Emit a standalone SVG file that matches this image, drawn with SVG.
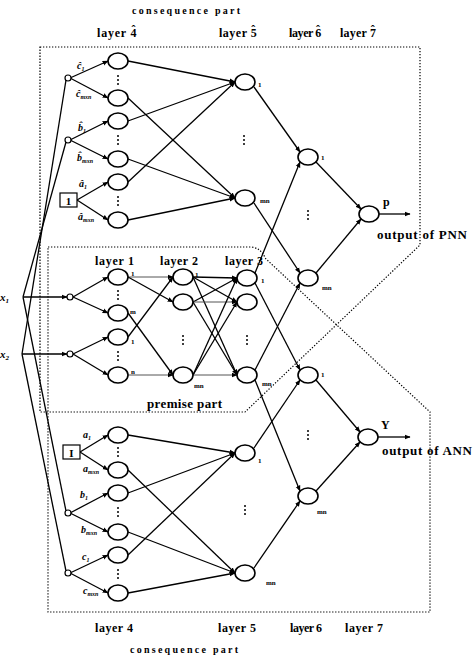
<svg xmlns="http://www.w3.org/2000/svg" width="474" height="657" viewBox="0 0 474 657">
<defs>
<marker id="ah" viewBox="0 0 10 10" refX="9" refY="5" markerWidth="6" markerHeight="6" orient="auto" markerUnits="userSpaceOnUse">
<path d="M0,1 L10,5 L0,9 z" fill="#000"/>
</marker>
<g id="dots"><circle cx="0" cy="-4" r="1"/><circle cx="0" cy="0" r="1"/><circle cx="0" cy="4" r="1"/></g>
</defs>
<style>
.t{font-family:"Liberation Serif","Times New Roman",serif;font-weight:bold;fill:#000}
.h{font-size:12px}
.s{font-size:7px}
.w{font-size:10px;font-style:italic}
.sub{font-size:6px;font-style:italic}
.n{fill:#fff;stroke:#000;stroke-width:1.6}
.sp{fill:#fff;stroke:#000;stroke-width:1.2}
.c line{stroke:#000;stroke-width:1.3;marker-end:url(#ah)}
.c line.na{marker-end:none}
.c line.g{stroke:#555;stroke-width:1}
.b{fill:none;stroke:#000;stroke-width:1.2;stroke-dasharray:1.3 1.7}
</style>
<rect width="474" height="657" fill="#fff"/>

<!-- dotted regions -->
<g id="regions">
<path class="b" d="M40,47 L420,47 L420,245 L245,412 L40,412 Z"/>
<path class="b" d="M48,247 L252,247 Q262,249 265,258 L430,412 L430,612 L48,612 Z"/>
</g>

<!-- connectors -->
<g id="connectors" class="c">
<line class="na" x1="23" y1="297" x2="66" y2="142"/>
<line class="na" x1="22" y1="354" x2="66" y2="80"/>
<line class="na" x1="23" y1="297" x2="66" y2="511"/>
<line class="na" x1="22" y1="354" x2="66" y2="571"/>
<line x1="23" y1="297" x2="67" y2="297"/>
<line x1="22" y1="354" x2="67" y2="354"/>

<line x1="70" y1="78" x2="108" y2="61"/>
<line x1="70" y1="78" x2="108" y2="98"/>
<line x1="70" y1="140" x2="108" y2="121"/>
<line x1="70" y1="140" x2="108" y2="159"/>
<line x1="77" y1="200" x2="108" y2="182"/>
<line x1="77" y1="200" x2="108" y2="220"/>

<line x1="80" y1="452" x2="108" y2="435"/>
<line x1="80" y1="452" x2="108" y2="470"/>
<line x1="70" y1="513" x2="108" y2="493"/>
<line x1="70" y1="513" x2="108" y2="532"/>
<line x1="70" y1="573" x2="108" y2="555"/>
<line x1="70" y1="573" x2="108" y2="593"/>

<line x1="128" y1="61" x2="235" y2="82"/>
<line x1="128" y1="98" x2="235" y2="198"/>
<line x1="128" y1="121" x2="235" y2="82"/>
<line x1="128" y1="159" x2="235" y2="198"/>
<line x1="128" y1="182" x2="235" y2="82"/>
<line x1="128" y1="220" x2="235" y2="198"/>

<line x1="128" y1="435" x2="235" y2="453"/>
<line x1="128" y1="470" x2="235" y2="573"/>
<line x1="128" y1="493" x2="235" y2="453"/>
<line x1="128" y1="532" x2="235" y2="573"/>
<line x1="128" y1="555" x2="235" y2="453"/>
<line x1="128" y1="593" x2="235" y2="573"/>

<line x1="73" y1="297" x2="108" y2="277"/>
<line x1="73" y1="297" x2="108" y2="313"/>
<line x1="73" y1="354" x2="108" y2="337"/>
<line x1="73" y1="354" x2="108" y2="375"/>

<line class="g" x1="128" y1="277" x2="173" y2="277"/>
<line x1="128" y1="277" x2="173" y2="302"/>
<line x1="128" y1="313" x2="173" y2="375"/>
<line x1="128" y1="337" x2="173" y2="277"/>
<line class="g" x1="128" y1="375" x2="173" y2="375"/>

<line x1="193" y1="277" x2="237" y2="278"/>
<line x1="193" y1="277" x2="237" y2="302"/>
<line x1="193" y1="277" x2="237" y2="375"/>
<line x1="193" y1="302" x2="237" y2="278"/>
<line class="g" x1="193" y1="302" x2="237" y2="302"/>
<line x1="193" y1="302" x2="237" y2="375"/>
<line x1="193" y1="375" x2="237" y2="278"/>
<line x1="193" y1="375" x2="237" y2="302"/>
<line class="g" x1="193" y1="375" x2="237" y2="375"/>

<line x1="254" y1="87" x2="300" y2="152"/>
<line x1="254" y1="203" x2="300" y2="273"/>
<line x1="255" y1="273" x2="300" y2="162"/>
<line x1="255" y1="283" x2="300" y2="370"/>
<line x1="255" y1="370" x2="300" y2="283"/>
<line x1="255" y1="380" x2="300" y2="491"/>
<line x1="254" y1="448" x2="300" y2="380"/>
<line x1="254" y1="568" x2="300" y2="501"/>

<line x1="316" y1="162" x2="361" y2="209"/>
<line x1="316" y1="273" x2="361" y2="219"/>
<line x1="316" y1="380" x2="360" y2="432"/>
<line x1="316" y1="491" x2="360" y2="442"/>

<line x1="379" y1="214" x2="410" y2="214"/>
<line x1="378" y1="437" x2="410" y2="437"/>
</g>

<!-- splitters / bias boxes -->
<g id="split-c-hat"><circle class="sp" cx="68" cy="78" r="3"/></g>
<g id="split-b-hat"><circle class="sp" cx="68" cy="140" r="3"/></g>
<g id="bias-hat"><rect class="sp" x="60" y="193" width="17" height="14"/><text class="t" x="68.5" y="204.5" font-size="11" text-anchor="middle">1</text></g>
<g id="split-x1"><circle class="sp" cx="70" cy="297" r="3"/></g>
<g id="split-x2"><circle class="sp" cx="70" cy="354" r="3"/></g>
<g id="bias"><rect class="sp" x="63" y="445" width="17" height="14"/><text class="t" x="71.5" y="456.5" font-size="11" text-anchor="middle">I</text></g>
<g id="split-b"><circle class="sp" cx="68" cy="513" r="3"/></g>
<g id="split-c"><circle class="sp" cx="68" cy="573" r="3"/></g>

<!-- layer 4 hat -->
<g id="n4h-c1"><ellipse class="n" cx="118" cy="61" rx="10" ry="8"/></g>
<g id="n4h-cmn"><ellipse class="n" cx="118" cy="98" rx="10" ry="8"/></g>
<g id="n4h-b1"><ellipse class="n" cx="118" cy="121" rx="10" ry="8"/></g>
<g id="n4h-bmn"><ellipse class="n" cx="118" cy="159" rx="10" ry="8"/></g>
<g id="n4h-a1"><ellipse class="n" cx="118" cy="182" rx="10" ry="8"/></g>
<g id="n4h-amn"><ellipse class="n" cx="118" cy="220" rx="10" ry="8"/></g>
<g id="n5h-1"><ellipse class="n" cx="245" cy="82" rx="10" ry="8"/><text class="t s" x="258" y="87">1</text></g>
<g id="n5h-mn"><ellipse class="n" cx="245" cy="198" rx="10" ry="8"/><text class="t s" x="260" y="203">mn</text></g>
<g id="n6h-1"><ellipse class="n" cx="308" cy="157" rx="10" ry="8"/><text class="t s" x="321" y="160">1</text></g>
<g id="n6h-mn"><ellipse class="n" cx="308" cy="278" rx="10" ry="8"/><text class="t s" x="322" y="290">mn</text></g>
<g id="n7h"><ellipse class="n" cx="369" cy="214" rx="10" ry="8"/></g>

<!-- premise -->
<g id="n1-1"><ellipse class="n" cx="118" cy="277" rx="10" ry="8"/><text class="t s" x="131" y="276">1</text></g>
<g id="n1-m"><ellipse class="n" cx="118" cy="313" rx="10" ry="8"/><text class="t s" x="130" y="314">m</text></g>
<g id="n1-1b"><ellipse class="n" cx="118" cy="337" rx="10" ry="8"/><text class="t s" x="131" y="344">1</text></g>
<g id="n1-n"><ellipse class="n" cx="118" cy="375" rx="10" ry="8"/><text class="t s" x="131" y="374">n</text></g>
<g id="n2-1"><ellipse class="n" cx="183" cy="277" rx="10" ry="8"/><text class="t s" x="195" y="277">1</text></g>
<g id="n2-2"><ellipse class="n" cx="183" cy="302" rx="10" ry="8"/></g>
<g id="n2-mn"><ellipse class="n" cx="183" cy="375" rx="10" ry="8"/><text class="t s" x="194" y="388">mn</text></g>
<g id="n3-1"><ellipse class="n" cx="247" cy="278" rx="10" ry="8"/><text class="t s" x="261" y="283">1</text></g>
<g id="n3-2"><ellipse class="n" cx="247" cy="302" rx="10" ry="8"/></g>
<g id="n3-mn"><ellipse class="n" cx="247" cy="375" rx="10" ry="8"/><text class="t s" x="262" y="386">mn</text></g>

<!-- layer 4 -->
<g id="n4-a1"><ellipse class="n" cx="118" cy="435" rx="10" ry="8"/></g>
<g id="n4-amn"><ellipse class="n" cx="118" cy="470" rx="10" ry="8"/></g>
<g id="n4-b1"><ellipse class="n" cx="118" cy="493" rx="10" ry="8"/></g>
<g id="n4-bmn"><ellipse class="n" cx="118" cy="532" rx="10" ry="8"/></g>
<g id="n4-c1"><ellipse class="n" cx="118" cy="555" rx="10" ry="8"/></g>
<g id="n4-cmn"><ellipse class="n" cx="118" cy="593" rx="10" ry="8"/></g>
<g id="n5-1"><ellipse class="n" cx="245" cy="453" rx="10" ry="8"/><text class="t s" x="258" y="463">1</text></g>
<g id="n5-mn"><ellipse class="n" cx="245" cy="573" rx="10" ry="8"/><text class="t s" x="266" y="585">mn</text></g>
<g id="n6-1"><ellipse class="n" cx="308" cy="375" rx="10" ry="8"/><text class="t s" x="321" y="377">1</text></g>
<g id="n6-mn"><ellipse class="n" cx="308" cy="496" rx="10" ry="8"/><text class="t s" x="317" y="514">mn</text></g>
<g id="n7"><ellipse class="n" cx="368" cy="437" rx="10" ry="8"/></g>

<!-- ellipsis dots -->
<g id="ellipses">
<use href="#dots" x="118" y="80"/>
<use href="#dots" x="118" y="140"/>
<use href="#dots" x="118" y="201"/>
<use href="#dots" x="244" y="140"/>
<use href="#dots" x="308" y="215"/>
<use href="#dots" x="118" y="295"/>
<use href="#dots" x="118" y="356"/>
<use href="#dots" x="183" y="340"/>
<use href="#dots" x="247" y="340"/>
<use href="#dots" x="118" y="452"/>
<use href="#dots" x="118" y="512"/>
<use href="#dots" x="118" y="574"/>
<use href="#dots" x="245" y="510"/>
<use href="#dots" x="308" y="435"/>
</g>

<!-- weight labels -->
<g id="weights">
<text class="t w" x="77" y="69">ĉ<tspan class="sub" dy="2">1</tspan></text>
<text class="t w" x="76" y="97">ĉ<tspan class="sub" dy="2">mxn</tspan></text>
<text class="t w" x="78" y="131">b̂<tspan class="sub" dy="2">1</tspan></text>
<text class="t w" x="77" y="161">b̂<tspan class="sub" dy="2">mxn</tspan></text>
<text class="t w" x="79" y="187">â<tspan class="sub" dy="2">1</tspan></text>
<text class="t w" x="78" y="220">â<tspan class="sub" dy="2">mxn</tspan></text>
<text class="t w" x="83" y="438">a<tspan class="sub" dy="2">1</tspan></text>
<text class="t w" x="83" y="472">a<tspan class="sub" dy="2">mxn</tspan></text>
<text class="t w" x="80" y="498">b<tspan class="sub" dy="2">1</tspan></text>
<text class="t w" x="81" y="533">b<tspan class="sub" dy="2">mxn</tspan></text>
<text class="t w" x="82" y="560">c<tspan class="sub" dy="2">1</tspan></text>
<text class="t w" x="83" y="594">c<tspan class="sub" dy="2">mxn</tspan></text>
</g>

<!-- headings -->
<g id="labels">
<text class="t" x="132" y="14" font-size="10" textLength="108" lengthAdjust="spacing">consequence  part</text>
<text class="t h" x="97" y="37" letter-spacing="0.8">layer 4<tspan dx="-6" dy="-3" letter-spacing="0">ˆ</tspan></text>
<text class="t h" x="219" y="37" letter-spacing="0.5">layer 5<tspan dx="-6" dy="-3" letter-spacing="0">ˆ</tspan></text>
<text class="t h" x="289" y="37" letter-spacing="-0.4">layer 6<tspan dx="-5" dy="-3" letter-spacing="0">ˆ</tspan></text>
<text class="t h" x="340" y="37" letter-spacing="0.2">layer 7<tspan dx="-5.5" dy="-3" letter-spacing="0">ˆ</tspan></text>
<text class="t h" x="95" y="265" textLength="39" lengthAdjust="spacing">layer 1</text>
<text class="t h" x="160" y="265" textLength="38" lengthAdjust="spacing">layer 2</text>
<text class="t h" x="225" y="265" textLength="38" lengthAdjust="spacing">layer 3</text>
<text class="t" x="147" y="408" font-size="13" textLength="75" lengthAdjust="spacing">premise part</text>
<text class="t" x="0" y="301" font-size="11" font-style="italic">x<tspan font-size="7" dy="2">1</tspan></text>
<text class="t" x="0" y="358" font-size="11" font-style="italic">x<tspan font-size="7" dy="2">2</tspan></text>
<text class="t" x="383" y="206" font-size="12">p</text>
<text class="t" x="377" y="239" font-size="13" textLength="90" lengthAdjust="spacing">output of PNN</text>
<text class="t" x="381" y="429" font-size="12">Y</text>
<text class="t" x="382" y="455" font-size="13" textLength="90" lengthAdjust="spacing">output of ANN</text>
<text class="t h" x="95" y="632" textLength="38" lengthAdjust="spacing">layer 4</text>
<text class="t h" x="218" y="632" textLength="38" lengthAdjust="spacing">layer 5</text>
<text class="t h" x="290" y="632" textLength="32" lengthAdjust="spacing">layer 6</text>
<text class="t h" x="345" y="632" textLength="38" lengthAdjust="spacing">layer 7</text>
<text class="t" x="130" y="653" font-size="10" textLength="108" lengthAdjust="spacing">consequence  part</text>
</g>
</svg>
